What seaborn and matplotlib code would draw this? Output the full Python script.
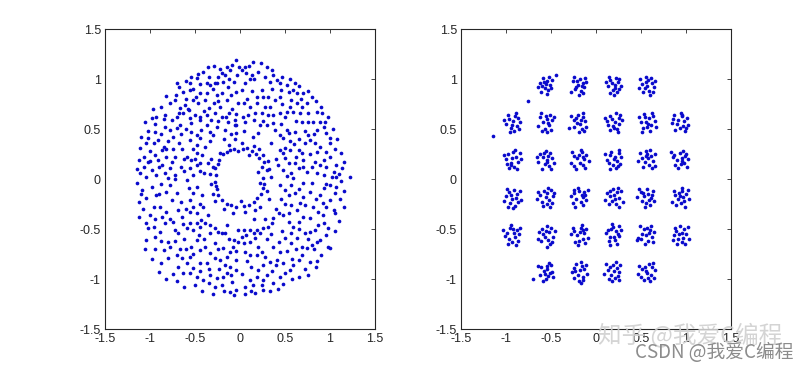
import numpy as np
import pandas as pd
import matplotlib
matplotlib.use("Agg")
import matplotlib.pyplot as plt
import seaborn as sns

# -------------------------
# DATA
# -------------------------

# left panel: ring-shaped cloud, one list per quadrant
left_q1 = [(0.06,1.12),(0.02,1.09),(0.07,1.06),(0.13,1.04),(0.14,1.17),(0.23,1.16),(0.06,0.96),
           (0.35,1.09),(0.37,1.04),(0.41,0.99),(0.33,0.97),(0.44,0.96),(0.52,0.94),(0.61,0.96),
           (0.46,0.89),(0.54,0.87),(0.59,0.89),(0.63,0.86),(0.57,0.79),(0.63,0.76),(0.69,0.72),
           (0.74,0.76),(0.80,0.82),(0.56,0.72),(0.52,0.67),(0.59,0.67),(0.67,0.66),(0.76,0.66),
           (0.85,0.67),(0.91,0.66),(0.94,0.57),(0.89,0.57),(0.81,0.57),(0.75,0.57),(0.69,0.57),
           (0.50,0.62),(0.44,0.66),(0.37,0.64),(0.31,0.64),(0.24,0.66),(0.17,0.66),(0.09,0.64),
           (0.06,0.57),(0.15,0.59),(0.22,0.54),(0.30,0.54),(0.37,0.56),(0.39,0.49),(0.44,0.44),
           (0.48,0.41),(0.54,0.46),(0.61,0.47),(0.52,0.49),(0.76,0.44),(0.78,0.39),(0.72,0.36),
           (0.83,0.36),(0.89,0.32),(0.85,0.27),(0.96,0.27),(1.00,0.22),(0.93,0.19),(0.89,0.14),
           (0.83,0.17),(0.80,0.12),(0.74,0.07),(0.65,0.11),(0.61,0.16),(0.54,0.16),(0.50,0.21),
           (0.48,0.26),(0.44,0.29),(0.50,0.31),(0.56,0.29),(0.65,0.29),(0.69,0.26),(0.70,0.19),
           (0.57,0.06),(0.59,0.01),(0.48,0.09),(0.30,0.09),(0.24,0.12),(0.20,0.07),(0.26,0.01),
           (0.03,0.30),(0.08,0.31),(0.13,0.28),(0.18,0.25),(0.21,0.21),(0.27,0.17),(0.10,0.24),
           (1.02,0.02),(1.07,0.02),(1.13,0.11),(1.07,0.14),(1.04,0.07),(1.22,0.02),(0.93,0.04),
           (0.24,0.89),(0.26,0.82),(0.19,0.82),(0.19,0.76),(0.11,0.72),(0.04,0.76),(0.02,0.89),
           (0.31,0.82),(0.39,0.79),(0.44,0.82),(0.33,0.72),(0.28,0.72),(0.96,0.46),(1.00,0.41),
           (1.00,0.36),(0.85,0.49),(0.93,0.52),(0.11,1.00),(0.28,1.02),(0.70,0.86),(1.05,0.30),
           (0.66,0.40),(0.60,0.35),(0.40,0.20),(0.62,0.22),(0.86,0.06),(0.14,0.42),(0.04,0.48),
           (0.10,1.13),(0.20,1.07),(0.30,1.12),(0.47,1.02),(0.55,1.00),(0.66,0.93),(0.75,0.88),
           (0.84,0.78),(0.90,0.72),(0.98,0.62),(1.03,0.50),(1.08,0.40),(1.12,0.26),(1.15,0.17),
           (1.10,0.05),(0.78,0.25),(0.72,0.48),(0.62,0.58),(0.47,0.75),(0.35,0.90),(0.13,0.88),
           (0.08,0.80),(0.03,0.62),(0.20,0.46),(0.34,0.36),(0.55,0.38),(0.70,0.12),(0.52,0.03),
           (0.42,0.14),(0.95,0.12),(0.16,1.00),(0.45,0.55),(0.26,0.58),(0.82,0.45),(0.68,0.80),
           (0.32,0.10),(0.15,0.33),(0.34,0.02),(0.26,0.24),(0.02,0.36),(0.31,0.18),(0.21,0.30)]

left_q2 = [(-0.29,1.13),(-0.09,1.14),(-0.05,1.19),(-0.01,1.12),(-0.41,1.07),(-0.20,1.06),(-0.17,1.04),
           (-0.24,1.02),(-0.03,1.04),(-0.11,1.09),(-0.56,0.96),(-0.48,1.01),(-0.37,0.96),(-0.33,0.94),
           (-0.26,0.96),(-0.19,0.97),(-0.07,0.97),(-0.13,0.92),(-0.71,0.84),(-0.63,0.87),(-0.56,0.89),
           (-0.49,0.82),(-0.44,0.86),(-0.37,0.86),(-0.26,0.84),(-0.20,0.86),(-0.04,0.87),(-0.78,0.76),
           (-0.72,0.79),(-0.67,0.71),(-0.61,0.74),(-0.57,0.69),(-0.52,0.79),(-0.47,0.76),(-0.39,0.79),
           (-0.35,0.71),(-0.29,0.76),(-0.22,0.72),(-0.15,0.79),(-0.02,0.76),(-0.93,0.62),(-0.83,0.64),
           (-0.76,0.59),(-0.70,0.62),(-0.63,0.66),(-0.56,0.61),(-0.50,0.64),(-0.44,0.59),(-0.37,0.64),
           (-0.32,0.59),(-0.28,0.66),(-0.20,0.62),(-0.13,0.57),(-0.06,0.59),(-0.04,0.54),(-1.06,0.57),
           (-0.98,0.61),(-0.94,0.47),(-0.83,0.52),(-0.78,0.49),(-0.70,0.51),(-0.67,0.54),(-0.54,0.47),
           (-0.48,0.44),(-0.43,0.49),(-0.37,0.54),(-0.33,0.47),(-0.26,0.52),(-0.17,0.49),(-0.06,0.54),
           (-0.04,0.46),(-1.11,0.31),(-1.02,0.41),(-0.96,0.36),(-0.91,0.39),(-0.85,0.32),(-0.56,0.39),
           (-0.48,0.34),(-0.44,0.41),(-0.39,0.32),(-1.12,0.19),(-1.07,0.22),(-1.02,0.17),
           (-0.94,0.24),(-0.91,0.19),(-0.87,0.29),(-0.82,0.22),(-0.76,0.17),(-0.59,0.22),(-0.54,0.19),
           (-0.48,0.26),(-0.44,0.16),(-0.19,0.25),(-0.15,0.27),(-0.11,0.29),(-0.07,0.30),(-0.02,0.28),
           (-0.23,0.19),(-1.11,0.06),(-1.07,0.12),(-1.04,0.02),(-0.98,0.09),(-0.93,0.04),(-0.87,0.14),
           (-0.83,0.06),(-0.78,0.11),(-0.72,0.04),(-0.56,0.11),(-0.52,0.04),(-0.48,0.14),(-0.28,0.11),
           (-0.27,0.04),(-0.25,0.15),(-0.45,0.95),(-0.52,0.90),(-0.30,0.90),(-0.12,1.00),(-0.35,1.02),
           (-0.60,0.80),(-0.68,0.66),(-0.88,0.45),(-0.74,0.42),(-0.64,0.30),(-0.66,0.12),(-0.62,0.20),
           (-0.42,0.24),(-0.40,0.06),(-0.45,0.08),(-1.00,0.28),(-0.80,0.38),(-0.60,0.50),(-0.10,0.45),
           (-0.16,0.62),(-0.09,0.70),(-0.24,0.78),(-0.55,0.56),(-0.90,0.12),(-1.05,0.36),(-0.15,1.12),
           (-0.22,1.10),(-0.68,0.36),(-0.72,0.22),(-0.30,0.44),
           (-0.36,1.12),(-0.47,1.05),(-0.60,0.98),(-0.68,0.92),(-0.82,0.83),(-0.88,0.72),(-0.97,0.70),
           (-1.02,0.48),(-1.10,0.42),(-1.14,0.10),(-0.70,0.96),(-0.58,0.70),(-0.40,0.68),(-0.25,0.58),
           (-0.12,0.66),(-0.05,0.65),(-0.33,0.38),(-0.52,0.30),(-0.75,0.30),(-0.95,0.55),(-0.85,0.60),
           (-0.62,0.08),(-0.36,0.16),(-0.50,0.20),(-0.80,0.01),(-1.00,0.18),(-0.18,0.40),(-0.06,0.40),
           (-0.66,0.45),(-0.82,0.30),(-0.45,0.62),(-0.28,0.96),(-0.10,0.84),(-0.55,1.02),
           (-0.33,0.05),(-0.12,0.34),(-0.22,0.26),(-0.32,0.20),(-0.30,0.12)]

left_q3 = [(-1.15,-0.04),(-1.09,-0.11),(-1.12,-0.23),(-1.04,-0.19),(-0.98,-0.08),(-0.93,-0.16),(-0.89,-0.28),
           (-1.00,-0.36),(-1.04,-0.44),(-1.02,-0.49),(-0.96,-0.48),(-0.87,-0.38),(-0.82,-0.33),(-0.78,-0.06),
           (-0.82,-0.13),(-0.76,-0.21),(-1.04,-0.61),(-0.89,-0.53),(-0.80,-0.63),(-0.85,-0.71),(-0.78,-0.68),
           (-0.80,-0.79),(-0.72,-0.51),(-0.69,-0.54),(-0.70,-0.76),(-0.69,-0.88),(-0.63,-0.94),(-0.59,-0.84),
           (-0.56,-0.78),(-0.65,-0.79),(-0.59,-0.49),(-0.56,-0.44),(-0.52,-0.51),(-0.44,-0.48),(-0.39,-0.44),
           (-0.33,-0.46),(-0.28,-0.49),(-0.24,-0.53),(-0.20,-0.54),(-0.17,-0.54),(-0.33,-0.54),(-0.48,-0.61),
           (-0.54,-0.68),(-0.44,-0.71),(-0.39,-0.68),(-0.33,-0.74),(-0.28,-0.79),(-0.22,-0.81),(-0.17,-0.86),
           (-0.11,-0.88),(-0.04,-0.81),(-0.56,-0.94),(-0.48,-0.98),(-0.41,-1.01),(-0.33,-0.96),(-0.26,-0.99),
           (-0.19,-0.98),(-0.15,-0.94),(-0.09,-1.03),(-0.11,-1.13),(-0.07,-1.16),(-0.04,-1.11),(-0.56,-0.33),
           (-0.52,-0.28),(-0.48,-0.34),(-0.43,-0.41),(-0.56,-0.21),(-0.57,-0.09),(-0.52,-0.14),(-0.59,-0.01),
           (-0.48,-0.08),(-0.41,-0.28),(-0.70,-0.14),(-0.69,-0.31),(-0.65,-0.38),(-0.42,-0.16),(-0.28,-0.03),
           (-0.26,-0.10),(-0.24,-0.16),(-0.20,-0.21),(-0.15,-0.25),(-0.10,-0.26),(-0.05,-0.28),(-0.27,-0.07),
           (-0.07,-0.61),(-0.02,-0.63),(-0.02,-0.51),(-0.37,-0.84),(-0.44,-0.84),(-0.52,-0.89),(-0.74,-0.43),
           (-0.83,-0.44),(-0.94,-0.58),(-0.28,-0.64),(-0.19,-0.69),(-0.11,-0.73),(-0.04,-0.91),(-0.20,-1.06),
           (-0.28,-1.08),(-0.35,-1.04),(-0.95,-0.70),(-0.88,-0.84),(-0.75,-0.95),(-0.62,-0.60),(-0.66,-0.23),
           (-1.08,-0.30),(-0.12,-0.60),(-0.46,-0.56),(-0.60,-0.70),(-0.50,-1.06),(-0.15,-0.78),(-0.96,-0.28),
           (-1.10,-0.15),(-1.12,-0.38),(-1.06,-0.70),(-0.98,-0.80),(-0.90,-0.93),(-0.82,-1.00),(-0.70,-1.02),
           (-0.62,-1.08),(-0.42,-1.12),(-0.30,-1.15),(-0.18,-1.12),(-0.88,-0.62),(-0.72,-0.62),(-0.40,-0.60),
           (-0.25,-0.70),(-0.08,-0.68),(-0.36,-0.36),(-0.45,-0.25),(-0.63,-0.45),(-0.78,-0.40),(-0.95,-0.40),
           (-0.72,0.00),(-0.88,-0.05),(-0.34,-0.90),(-0.10,-0.96),(-0.52,-0.75),(-0.67,-0.70),(-0.90,-0.15),
           (-0.60,-0.30),(-0.48,-0.44),(-0.14,-0.46),(-0.05,-0.72),(-0.45,-0.92),(-0.23,-0.90),
           (-0.30,-0.15),(-0.18,-0.30),(-0.08,-0.34),(-0.28,-0.22),(-0.32,-0.05)]

left_q4 = [(0.22,-0.04),(0.26,-0.09),(0.23,-0.15),(0.50,-0.11),(0.54,-0.16),(0.57,-0.06),(0.61,-0.14),
           (0.80,-0.04),(0.78,-0.13),(0.89,-0.16),(0.93,-0.09),(1.00,-0.06),(1.07,-0.08),(1.06,-0.14),
           (1.00,-0.21),(0.96,-0.28),(1.04,-0.31),(1.06,-0.34),(0.87,-0.33),(0.81,-0.28),(0.72,-0.26),
           (0.67,-0.24),(0.63,-0.31),(0.57,-0.26),(0.54,-0.34),(0.48,-0.36),(0.43,-0.34),(0.37,-0.39),
           (0.35,-0.44),(0.31,-0.48),(0.26,-0.49),(0.19,-0.51),(0.15,-0.54),(0.11,-0.51),(0.07,-0.56),
           (0.04,-0.51),(0.22,-0.54),(0.17,-0.59),(0.11,-0.63),(0.04,-0.64),(0.06,-0.73),(0.11,-0.76),
           (0.19,-0.76),(0.24,-0.73),(0.28,-0.78),(0.33,-0.83),(0.26,-0.86),(0.20,-0.91),(0.19,-0.98),
           (0.26,-1.01),(0.24,-1.06),(0.11,-1.01),(0.06,-1.08),(0.37,-1.04),(0.44,-0.98),(0.50,-0.94),
           (0.56,-0.91),(0.59,-0.86),(0.65,-0.81),(0.69,-0.76),(0.69,-0.68),(0.74,-0.69),(0.80,-0.66),
           (0.85,-0.63),(0.89,-0.61),(1.00,-0.69),(0.78,-0.83),(0.65,-0.98),(0.48,-0.84),(0.41,-0.81),
           (0.44,-0.73),(0.37,-0.68),(0.43,-0.63),(0.50,-0.59),(0.57,-0.64),(0.63,-0.59),(0.72,-0.54),
           (0.78,-0.53),(0.83,-0.51),(0.87,-0.46),(0.93,-0.44),(0.98,-0.49),(0.59,-0.48),(0.54,-0.43),
           (0.65,-0.43),(0.70,-0.38),(0.78,-0.39),(0.57,-0.54),(0.26,-1.11),(0.17,-1.14),(0.04,-0.27),
           (0.10,-0.26),(0.15,-0.23),(0.19,-0.19),(0.27,-0.05),(0.01,-0.22),(0.90,-0.76),(0.84,-0.88),
           (0.02,-0.95),(0.12,-0.88),(0.35,-0.92),(0.92,-0.24),(1.11,-0.20),(0.47,-0.52),(0.30,-0.60),
           (0.14,-1.06),(0.42,-1.10),(0.72,-0.90),(0.96,-0.56),(0.66,-0.10),(0.45,-0.20),(0.84,-0.20),
           (0.05,-1.15),(0.12,-1.12),(0.33,-1.12),(0.48,-1.05),(0.58,-1.00),(0.75,-0.96),(0.86,-0.82),
           (0.98,-0.68),(1.05,-0.52),(1.10,-0.42),(1.15,-0.28),(1.16,-0.12),(1.12,-0.02),(0.82,-0.70),
           (0.62,-0.70),(0.52,-0.72),(0.34,-0.55),(0.20,-0.68),(0.08,-0.82),(0.30,-0.96),(0.40,-0.30),
           (0.70,-0.18),(0.76,-0.60),(0.92,-0.36),(0.50,-0.25),(0.44,-0.06),(0.66,-0.50),(0.02,-0.58),
           (0.15,-0.40),(0.28,-0.40),(0.58,-0.80),(0.40,-0.86),(0.95,-0.05),(0.70,-0.04),
           (0.30,-0.12),(0.22,-0.28),(0.05,-0.33),(0.17,-0.31),(0.32,-0.20)]

# right panel: 32 clusters (6x6 grid without the corners)
cluster_x = [-0.56, -0.19, 0.19, 0.56,
             -0.93, -0.56, -0.19, 0.19, 0.56, 0.93,
             -0.93, -0.56, -0.19, 0.19, 0.56, 0.93,
             -0.93, -0.56, -0.19, 0.19, 0.56, 0.93,
             -0.93, -0.56, -0.19, 0.19, 0.56, 0.93,
             -0.56, -0.19, 0.19, 0.56]
cluster_y = [0.93]*4 + [0.56]*6 + [0.19]*6 + [-0.19]*6 + [-0.56]*6 + [-0.93]*4

cluster_spread = [
    [(-0.06,0.03),(-0.03,0.08),(0.02,0.05),(0.05,0.01),(-0.01,-0.02),(0.03,-0.04),(-0.05,-0.06),(0.07,0.06),(0.00,0.02),(-0.08,-0.01),(0.04,0.09),(0.01,-0.08),(-0.02,0.04),(0.06,-0.02),(0.12,0.11),(-0.04,0.00)],
    [(-0.07,0.05),(-0.04,-0.03),(0.01,0.07),(0.04,0.03),(0.02,-0.05),(-0.01,0.01),(0.06,-0.01),(-0.05,0.09),(0.08,0.04),(0.00,-0.09),(-0.09,-0.06),(0.03,0.00),(-0.02,0.05),(0.05,-0.07),(-0.03,-0.01),(0.07,0.08)],
    [(-0.03,0.06),(0.05,0.04),(-0.06,0.00),(0.02,0.01),(0.00,-0.04),(0.07,-0.03),(-0.04,-0.07),(0.03,0.08),(-0.08,0.04),(0.06,0.07),(0.01,-0.09),(-0.01,0.03),(0.04,-0.06),(-0.05,0.09),(0.09,0.00),(0.02,-0.02)],
    [(-0.05,0.02),(0.02,0.06),(0.06,0.03),(-0.02,-0.02),(0.03,-0.05),(-0.07,0.07),(0.08,-0.01),(0.00,0.09),(-0.04,-0.06),(0.05,0.08),(0.01,0.00),(-0.08,-0.02),(0.04,-0.09),(-0.01,0.04),(0.10,0.05),(0.07,-0.06)],
    [(-0.04,0.04),(0.03,0.07),(-0.07,-0.01),(0.01,0.02),(0.05,-0.03),(-0.02,-0.05),(0.06,0.05),(-0.05,0.08),(0.02,-0.08),(0.08,0.01),(-0.09,0.03),(0.00,-0.02),(0.04,0.10),(-0.03,-0.09),(-0.21,-0.13),(0.07,-0.06)],
    [(-0.06,0.06),(0.01,0.04),(0.05,0.08),(-0.03,0.01),(0.04,-0.02),(-0.01,-0.06),(0.07,0.03),(-0.08,-0.03),(0.02,-0.09),(0.06,-0.07),(-0.05,0.10),(0.00,0.07),(0.09,0.06),(-0.04,-0.08),(-0.20,0.22),(0.03,0.00)],
    [(-0.05,0.03),(0.04,0.06),(-0.01,0.08),(0.07,0.02),(0.01,-0.01),(-0.06,-0.04),(0.03,-0.06),(-0.03,0.05),(0.08,-0.04),(-0.09,0.07),(0.05,0.10),(0.00,-0.09),(-0.02,0.00),(0.06,-0.08),(-0.11,-0.05),(0.02,0.03)],
    [(-0.04,0.07),(0.06,0.05),(0.02,0.01),(-0.07,0.02),(0.00,-0.03),(0.04,-0.06),(-0.03,-0.07),(0.08,0.08),(-0.06,-0.02),(0.03,0.10),(0.07,-0.01),(-0.01,0.04),(0.05,-0.09),(-0.09,0.05),(0.01,-0.05),(0.10,0.03)],
    [(-0.06,0.01),(0.03,0.05),(0.07,0.07),(-0.02,0.06),(0.01,-0.04),(0.05,-0.02),(-0.04,-0.05),(0.09,0.02),(-0.08,0.06),(0.00,0.01),(0.04,-0.08),(-0.03,0.09),(0.06,0.10),(-0.05,-0.09),(0.11,-0.04),(0.02,-0.01)],
    [(-0.07,0.04),(0.02,0.07),(0.05,0.02),(-0.03,-0.01),(0.08,0.05),(0.00,-0.05),(-0.05,-0.07),(0.04,-0.03),(0.06,-0.08),(-0.09,0.00),(0.01,0.10),(-0.02,0.03),(0.09,-0.02),(0.03,0.08),(-0.06,0.08),(0.07,-0.05)],
    [(-0.05,0.06),(0.04,0.03),(0.01,0.08),(-0.07,0.01),(0.06,-0.02),(-0.02,-0.03),(0.02,-0.07),(0.08,0.07),(-0.04,-0.08),(0.00,0.02),(-0.09,0.05),(0.05,-0.09),(0.03,0.10),(-0.01,-0.05),(0.10,0.01),(-0.06,-0.04)],
    [(-0.03,0.03),(0.05,0.07),(0.02,0.00),(-0.06,0.06),(0.07,0.02),(-0.01,-0.04),(0.04,-0.06),(-0.08,-0.02),(0.00,0.09),(0.09,-0.03),(-0.04,-0.09),(0.03,0.04),(-0.02,0.07),(0.06,-0.09),(-0.10,0.03),(0.01,-0.02)],
    [(-0.06,0.04),(0.03,0.08),(0.06,0.01),(-0.02,0.02),(0.01,-0.03),(-0.05,-0.06),(0.08,0.05),(0.04,-0.05),(-0.08,0.08),(0.00,0.05),(-0.03,-0.09),(0.07,-0.08),(0.02,0.10),(-0.09,-0.03),(0.11,-0.01),(0.05,0.03)],
    [(-0.04,0.05),(0.02,0.03),(0.06,0.07),(-0.07,0.00),(0.04,-0.01),(0.00,-0.05),(-0.02,0.08),(0.08,-0.04),(-0.05,-0.03),(0.03,-0.08),(0.07,0.10),(-0.09,0.06),(0.01,0.01),(-0.03,-0.09),(0.09,0.03),(0.05,-0.06)],
    [(-0.05,0.02),(0.01,0.06),(0.05,0.04),(-0.02,-0.02),(0.07,-0.01),(-0.07,0.07),(0.03,-0.05),(-0.04,-0.07),(0.09,0.06),(0.00,0.09),(0.06,-0.08),(-0.09,-0.01),(0.02,0.02),(-0.01,0.04),(0.10,-0.06),(0.04,0.10)],
    [(-0.06,0.05),(0.03,0.02),(0.07,0.06),(-0.03,0.00),(0.01,-0.04),(-0.05,-0.05),(0.05,-0.03),(0.09,0.01),(-0.08,0.03),(0.00,0.07),(0.04,0.09),(-0.02,-0.08),(0.08,-0.07),(-0.10,0.08),(0.02,-0.01),(0.06,0.04)],
    [(-0.04,0.06),(0.05,0.04),(0.02,0.08),(-0.07,0.02),(0.00,-0.01),(0.06,-0.04),(-0.03,-0.05),(0.03,-0.08),(-0.09,-0.03),(0.08,0.07),(-0.01,0.03),(0.04,0.00),(-0.06,0.09),(0.01,-0.10),(0.10,-0.02),(-0.05,-0.09)],
    [(-0.06,0.03),(0.02,0.05),(0.06,0.08),(-0.02,0.07),(0.04,-0.02),(-0.04,-0.04),(0.01,-0.06),(0.08,0.02),(-0.08,0.06),(0.00,0.01),(0.05,-0.09),(-0.03,-0.08),(0.07,-0.05),(-0.10,-0.01),(0.03,0.10),(0.09,0.05)],
    [(-0.05,0.05),(0.03,0.03),(0.00,0.07),(0.06,0.06),(-0.03,-0.01),(0.02,-0.04),(-0.07,-0.05),(0.08,-0.02),(0.05,-0.07),(-0.09,0.02),(-0.01,0.10),(0.04,0.01),(-0.04,-0.09),(0.10,0.08),(0.07,0.03),(-0.06,0.08)],
    [(-0.04,0.02),(0.04,0.06),(0.01,0.03),(-0.07,0.05),(0.07,0.00),(-0.01,-0.03),(0.03,-0.06),(-0.05,-0.06),(0.09,0.07),(0.00,0.09),(0.06,-0.09),(-0.09,-0.02),(0.02,-0.01),(-0.03,0.07),(0.05,0.10),(0.11,-0.04)],
    [(-0.06,0.06),(0.02,0.04),(0.05,0.00),(-0.03,0.02),(0.00,-0.05),(0.07,0.07),(-0.05,-0.03),(0.04,-0.07),(-0.08,0.09),(0.08,-0.03),(0.01,0.09),(-0.02,-0.09),(0.06,0.03),(-0.10,0.01),(0.03,-0.02),(-0.04,0.05)],
    [(-0.05,0.03),(0.03,0.07),(0.07,0.04),(-0.02,-0.01),(0.01,-0.05),(-0.06,0.07),(0.05,-0.03),(-0.04,-0.07),(0.09,0.08),(0.00,0.02),(0.06,-0.09),(-0.09,-0.04),(0.02,0.10),(-0.01,0.05),(0.10,-0.01),(0.04,0.01)],
    [(-0.06,0.02),(0.01,0.06),(0.05,0.05),(-0.03,0.07),(0.03,-0.02),(-0.04,-0.04),(0.07,0.01),(0.00,-0.07),(-0.08,-0.01),(0.06,-0.06),(-0.02,0.10),(0.09,0.07),(0.02,0.02),(-0.05,-0.09),(0.04,-0.10),(-0.10,0.05)],
    [(-0.04,0.06),(0.04,0.03),(0.01,0.09),(-0.07,0.03),(0.06,0.07),(-0.01,-0.02),(0.03,-0.05),(-0.05,-0.06),(0.08,-0.02),(0.00,0.04),(-0.09,-0.04),(0.05,-0.09),(-0.03,0.01),(0.02,-0.12),(0.10,0.04),(0.07,-0.07)],
    [(-0.05,0.04),(0.02,0.07),(0.06,0.02),(-0.02,0.00),(0.04,-0.04),(-0.07,0.07),(0.00,-0.06),(0.08,0.06),(-0.04,-0.07),(0.03,0.10),(-0.09,0.01),(0.07,-0.08),(0.01,0.03),(-0.01,-0.10),(0.10,-0.03),(0.05,0.05)],
    [(-0.06,0.05),(0.03,0.04),(0.00,0.08),(0.06,0.09),(-0.03,-0.02),(0.02,-0.05),(-0.05,-0.06),(0.07,-0.01),(0.04,-0.09),(-0.08,0.02),(0.05,0.01),(-0.01,0.11),(0.09,0.05),(-0.04,-0.10),(0.01,-0.02),(-0.02,0.06)],
    [(-0.05,0.01),(0.04,0.05),(0.01,0.07),(-0.03,0.06),(0.06,-0.02),(-0.06,-0.04),(0.02,-0.06),(0.08,0.03),(-0.09,-0.03),(0.00,0.00),(0.05,0.09),(-0.02,-0.09),(0.07,-0.07),(-0.07,0.09),(0.03,0.02),(-0.10,-0.05)],
    [(-0.04,0.04),(0.05,0.06),(0.02,0.02),(-0.06,0.00),(0.07,0.01),(-0.02,-0.04),(0.03,-0.07),(-0.08,-0.05),(0.00,0.09),(0.09,0.08),(0.04,-0.03),(-0.05,0.07),(0.06,-0.09),(-0.01,0.01),(0.10,-0.04),(-0.03,-0.09)],
    [(-0.05,0.05),(0.02,0.03),(0.06,0.07),(-0.02,0.01),(0.03,-0.04),(-0.06,-0.03),(0.00,-0.07),(0.07,0.00),(-0.08,0.06),(0.04,0.09),(-0.03,-0.09),(0.08,-0.05),(0.01,0.06),(-0.14,-0.07),(0.05,-0.01),(-0.01,-0.02)],
    [(-0.06,0.04),(0.03,0.06),(0.01,0.02),(-0.03,0.08),(0.06,0.03),(-0.01,-0.03),(0.04,-0.05),(-0.05,-0.06),(0.08,0.07),(0.00,-0.09),(-0.08,0.00),(0.05,-0.08),(0.02,0.10),(-0.04,0.01),(0.09,-0.02),(0.02,-0.11)],
    [(-0.04,0.05),(0.04,0.04),(0.00,0.07),(-0.06,0.02),(0.06,0.00),(-0.02,-0.03),(0.02,-0.06),(0.08,0.07),(-0.05,-0.07),(0.05,-0.04),(-0.08,0.08),(0.01,0.01),(-0.01,-0.09),(0.07,-0.08),(0.03,0.10),(-0.10,-0.02)],
    [(-0.05,0.03),(0.03,0.08),(0.06,0.05),(-0.02,0.05),(0.01,-0.01),(-0.06,-0.05),(0.05,-0.03),(0.09,0.02),(-0.03,-0.08),(0.02,-0.06),(-0.08,0.06),(0.07,0.09),(0.00,0.01),(0.04,-0.09),(-0.09,-0.02),(0.08,-0.06)],
]

tick_vals = [-1.5, -1, -0.5, 0, 0.5, 1, 1.5]
tick_labels = ["-1.5", "-1", "-0.5", "0", "0.5", "1", "1.5"]

# -------------------------
# BUILD TABLES
# -------------------------
left_pts = left_q1 + left_q2 + left_q3 + left_q4
df_left = pd.DataFrame(left_pts, columns=["x", "y"])

rows = []
for cx, cy, spread in zip(cluster_x, cluster_y, cluster_spread):
    for dx, dy in spread:
        rows.append((cx + dx, cy + dy))
df_right = pd.DataFrame(rows, columns=["x", "y"])

# -------------------------
# PLOT
# -------------------------
sns.set_style("white")
plt.rcParams["font.family"] = ["Liberation Sans", "Noto Sans CJK SC", "DejaVu Sans"]

fig = plt.figure(figsize=(8.09, 3.71), dpi=100)
W, H = 809, 371
ax1 = fig.add_axes([105 / W, 42 / H, 270 / W, 300 / H])
ax2 = fig.add_axes([461 / W, 42 / H, 270 / W, 300 / H])

dot_color = "#0a0acc"
for ax, df in [(ax1, df_left), (ax2, df_right)]:
    sns.scatterplot(data=df, x="x", y="y", ax=ax, color=dot_color, s=7,
                    linewidth=0, edgecolor=None)
    ax.set_xlim(-1.5, 1.5)
    ax.set_ylim(-1.5, 1.5)
    ax.set_xticks(tick_vals)
    ax.set_yticks(tick_vals)
    ax.set_xticklabels(tick_labels)
    ax.set_yticklabels(tick_labels)
    ax.set_xlabel("")
    ax.set_ylabel("")
    ax.tick_params(direction="in", length=3, width=0.6, top=True, right=True,
                   labelsize=9, colors="#262626", pad=3)
    for sp in ax.spines.values():
        sp.set_visible(True)
        sp.set_color("#262626")
        sp.set_linewidth(0.8)

# watermarks
fig.text(598 / W, 1 - 335 / H, "知乎 @我爱C编程", fontsize=17, color="#d0d0d0",
         alpha=0.9, va="center", ha="left", family=["Noto Sans CJK SC", "DejaVu Sans"])
fig.text(635 / W, 1 - 353 / H, "CSDN @我爱C编程", fontsize=13.5, color="#8c8c8c",
         va="center", ha="left", family=["Noto Sans CJK SC", "DejaVu Sans"])

fig.savefig("out.png", dpi=100, facecolor="white")
